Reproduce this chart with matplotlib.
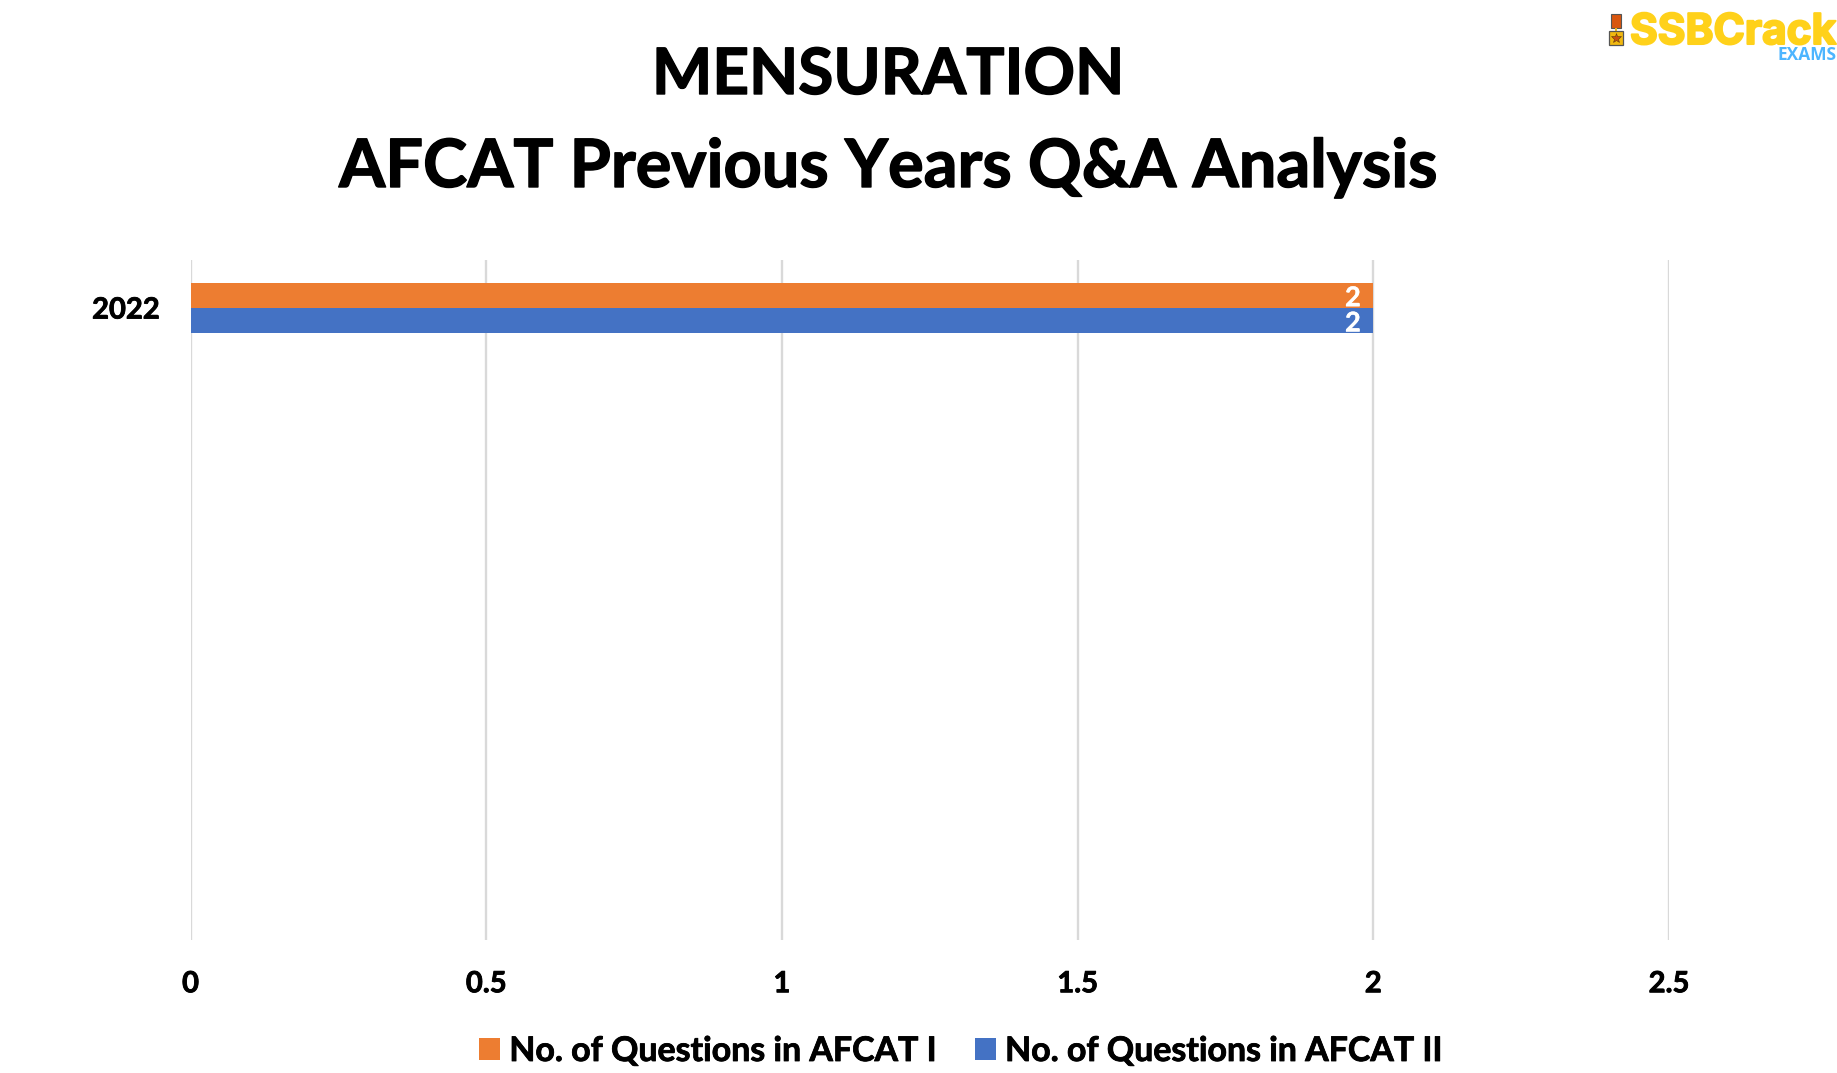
import matplotlib.pyplot as plt
import matplotlib.patheffects as pe
from matplotlib.lines import Line2D
from matplotlib.patches import Rectangle

# Valori del grafico
years = ['2022']
afcat_1 = [2]
afcat_2 = [2]
x_ticks = [0, 0.5, 1, 1.5, 2, 2.5]
x_tick_labels = ['0', '0.5', '1', '1.5', '2', '2.5']

series_names = ['No. of Questions in AFCAT I', 'No. of Questions in AFCAT II']
title_top = 'MENSURATION'
title_bottom = 'AFCAT Previous Years Q&A Analysis'

color_afcat_1 = '#ED7D31'
color_afcat_2 = '#4472C4'
color_grid = '#D9D9D9'

W, H = 1837, 1073
plt.rcParams['font.family'] = ['Lato', 'DejaVu Sans']

fig = plt.figure(figsize=(W / 100, H / 100), dpi=100, facecolor='white')


# Converte coordinate in pixel (origine in alto a sinistra) in frazioni della figura
def fx(px):
    return px / W


def fy(py):
    return 1 - py / H


# Ispessisce leggermente il testo in grassetto
def thicken(text, width=0.6, color='black'):
    text.set_path_effects([pe.withStroke(linewidth=width, foreground=color)])


left, right, top, bottom = 190.5, 1669, 260, 940
ax = fig.add_axes([fx(left), fy(bottom), fx(right - left), (bottom - top) / H])

bar_height = 0.5
ax.barh(-bar_height / 2, afcat_1, bar_height, color=color_afcat_1, label=series_names[0], zorder=3)
ax.barh(bar_height / 2, afcat_2, bar_height, color=color_afcat_2, label=series_names[1], zorder=3)

# Etichette dei valori dentro la fine delle barre
for offset, values in ((-bar_height / 2, afcat_1), (bar_height / 2, afcat_2)):
    for value in values:
        label = ax.annotate(str(value), (value, offset), xytext=(-9, -2), textcoords='offset points',
                            ha='right', va='center', color='white', fontsize=19.5, fontweight='bold', zorder=4)
        thicken(label, 0.3, 'white')

ax.set_xlim(0, 2.5)
ax.set_ylim(12.49, -0.949)
ax.set_xticks(x_ticks)
ax.set_xticklabels(x_tick_labels, fontsize=21, fontweight='bold')
ax.set_yticks([0])
ax.set_yticklabels(years, fontsize=21, fontweight='bold')
ax.tick_params(axis='both', length=0)
ax.tick_params(axis='x', pad=22.5)
ax.tick_params(axis='y', pad=22)
ax.grid(axis='x', color=color_grid, linewidth=1.7, zorder=0)
ax.set_axisbelow(True)
for spine in ax.spines.values():
    spine.set_visible(False)
for tick_label in ax.get_xticklabels() + ax.get_yticklabels():
    thicken(tick_label)

# Titolo su due righe
title_1 = fig.text(fx(888), fy(94), title_top, ha='center', va='baseline',
                   fontsize=46, fontweight='bold', color='black')
title_2 = fig.text(fx(888), fy(187), title_bottom, ha='center', va='baseline',
                   fontsize=48, fontweight='bold', color='black')
thicken(title_1, 1.0)
thicken(title_2, 1.0)

legend = fig.legend(loc='center', bbox_to_anchor=(fx(961), fy(1051)), ncol=2, frameon=False,
                    prop={'size': 24.4, 'weight': 'bold'}, handlelength=0.62, handleheight=0.62,
                    handletextpad=0.28, columnspacing=1.1, borderpad=0, borderaxespad=0)
for legend_text in legend.get_texts():
    thicken(legend_text)

# Logo in alto a destra
logo = fig.text(fx(1630), fy(44), 'SSBCrack', ha='left', va='baseline', color='#FFD11A',
                fontsize=30.5, fontweight='bold', family=['Inter', 'DejaVu Sans'])
thicken(logo, 1.5, '#FFD11A')
fig.text(fx(1837), fy(60), 'EXAMS', ha='right', va='baseline', color='#4DB5FF',
         fontsize=12.5, fontweight='bold', family=['Open Sans', 'DejaVu Sans'])

fig.add_artist(Rectangle((fx(1611), fy(28)), 10 / W, 14 / H, transform=fig.transFigure,
                         facecolor='#D9560F', edgecolor='#555555', linewidth=0.8))
fig.add_artist(Rectangle((fx(1615), fy(31)), 2 / W, 3 / H, transform=fig.transFigure,
                         facecolor='#E8B923', edgecolor='none'))
fig.add_artist(Rectangle((fx(1608.5), fy(45)), 14 / W, 14 / H, transform=fig.transFigure,
                         facecolor='#F2B90F', edgecolor='#555555', linewidth=0.9))
fig.add_artist(Line2D([fx(1615.5)], [fy(38)], marker='*', markersize=7.5, color='#C8500F',
                      markeredgecolor='#5A3A10', markeredgewidth=0.4, transform=fig.transFigure))

fig.savefig('out.png', dpi=100, facecolor='white')
